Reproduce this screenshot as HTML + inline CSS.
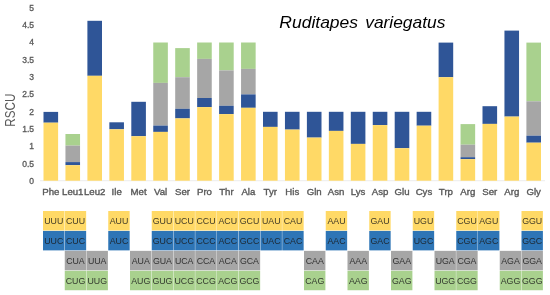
<!DOCTYPE html><html><head><meta charset="utf-8"><title>RSCU</title><style>html,body{margin:0;padding:0;background:#fff}svg{display:block}text{font-family:"Liberation Sans",sans-serif}</style></head><body>
<svg width="550" height="295" viewBox="0 0 550 295">
<rect width="550" height="295" fill="#fff"/>
<line x1="40" y1="180.7" x2="545" y2="180.7" stroke="#E0E0E0" stroke-width="0.6"/>
<rect x="43.50" y="111.90" width="14.6" height="10.80" fill="#2F5597"/>
<rect x="43.50" y="122.70" width="14.6" height="58.00" fill="#FFD966"/>
<rect x="65.45" y="134.00" width="14.6" height="11.60" fill="#A9D18E"/>
<rect x="65.45" y="145.60" width="14.6" height="16.50" fill="#A6A6A6"/>
<rect x="65.45" y="162.10" width="14.6" height="3.10" fill="#2F5597"/>
<rect x="65.45" y="165.20" width="14.6" height="15.50" fill="#FFD966"/>
<rect x="87.40" y="20.80" width="14.6" height="55.00" fill="#2F5597"/>
<rect x="87.40" y="75.80" width="14.6" height="104.90" fill="#FFD966"/>
<rect x="109.35" y="122.30" width="14.6" height="7.00" fill="#2F5597"/>
<rect x="109.35" y="129.30" width="14.6" height="51.40" fill="#FFD966"/>
<rect x="131.30" y="101.80" width="14.6" height="34.40" fill="#2F5597"/>
<rect x="131.30" y="136.20" width="14.6" height="44.50" fill="#FFD966"/>
<rect x="153.25" y="42.50" width="14.6" height="40.40" fill="#A9D18E"/>
<rect x="153.25" y="82.90" width="14.6" height="42.70" fill="#A6A6A6"/>
<rect x="153.25" y="125.60" width="14.6" height="6.30" fill="#2F5597"/>
<rect x="153.25" y="131.90" width="14.6" height="48.80" fill="#FFD966"/>
<rect x="175.20" y="48.10" width="14.6" height="29.10" fill="#A9D18E"/>
<rect x="175.20" y="77.20" width="14.6" height="31.60" fill="#A6A6A6"/>
<rect x="175.20" y="108.80" width="14.6" height="9.60" fill="#2F5597"/>
<rect x="175.20" y="118.40" width="14.6" height="62.30" fill="#FFD966"/>
<rect x="197.15" y="42.50" width="14.6" height="16.40" fill="#A9D18E"/>
<rect x="197.15" y="58.90" width="14.6" height="39.10" fill="#A6A6A6"/>
<rect x="197.15" y="98.00" width="14.6" height="9.10" fill="#2F5597"/>
<rect x="197.15" y="107.10" width="14.6" height="73.60" fill="#FFD966"/>
<rect x="219.10" y="42.50" width="14.6" height="27.90" fill="#A9D18E"/>
<rect x="219.10" y="70.40" width="14.6" height="35.40" fill="#A6A6A6"/>
<rect x="219.10" y="105.80" width="14.6" height="8.30" fill="#2F5597"/>
<rect x="219.10" y="114.10" width="14.6" height="66.60" fill="#FFD966"/>
<rect x="241.05" y="42.50" width="14.6" height="26.40" fill="#A9D18E"/>
<rect x="241.05" y="68.90" width="14.6" height="25.50" fill="#A6A6A6"/>
<rect x="241.05" y="94.40" width="14.6" height="13.40" fill="#2F5597"/>
<rect x="241.05" y="107.80" width="14.6" height="72.90" fill="#FFD966"/>
<rect x="263.00" y="111.80" width="14.6" height="15.10" fill="#2F5597"/>
<rect x="263.00" y="126.90" width="14.6" height="53.80" fill="#FFD966"/>
<rect x="284.95" y="111.80" width="14.6" height="17.80" fill="#2F5597"/>
<rect x="284.95" y="129.60" width="14.6" height="51.10" fill="#FFD966"/>
<rect x="306.90" y="111.80" width="14.6" height="25.80" fill="#2F5597"/>
<rect x="306.90" y="137.60" width="14.6" height="43.10" fill="#FFD966"/>
<rect x="328.85" y="111.80" width="14.6" height="19.10" fill="#2F5597"/>
<rect x="328.85" y="130.90" width="14.6" height="49.80" fill="#FFD966"/>
<rect x="350.80" y="111.80" width="14.6" height="32.10" fill="#2F5597"/>
<rect x="350.80" y="143.90" width="14.6" height="36.80" fill="#FFD966"/>
<rect x="372.75" y="111.80" width="14.6" height="13.30" fill="#2F5597"/>
<rect x="372.75" y="125.10" width="14.6" height="55.60" fill="#FFD966"/>
<rect x="394.70" y="111.80" width="14.6" height="36.40" fill="#2F5597"/>
<rect x="394.70" y="148.20" width="14.6" height="32.50" fill="#FFD966"/>
<rect x="416.65" y="111.80" width="14.6" height="13.90" fill="#2F5597"/>
<rect x="416.65" y="125.70" width="14.6" height="55.00" fill="#FFD966"/>
<rect x="438.60" y="42.60" width="14.6" height="34.60" fill="#2F5597"/>
<rect x="438.60" y="77.20" width="14.6" height="103.50" fill="#FFD966"/>
<rect x="460.55" y="124.10" width="14.6" height="20.60" fill="#A9D18E"/>
<rect x="460.55" y="144.70" width="14.6" height="12.50" fill="#A6A6A6"/>
<rect x="460.55" y="157.20" width="14.6" height="2.00" fill="#2F5597"/>
<rect x="460.55" y="159.20" width="14.6" height="21.50" fill="#FFD966"/>
<rect x="482.50" y="106.20" width="14.6" height="17.70" fill="#2F5597"/>
<rect x="482.50" y="123.90" width="14.6" height="56.80" fill="#FFD966"/>
<rect x="504.45" y="30.60" width="14.6" height="86.00" fill="#2F5597"/>
<rect x="504.45" y="116.60" width="14.6" height="64.10" fill="#FFD966"/>
<rect x="526.40" y="42.60" width="14.6" height="58.70" fill="#A9D18E"/>
<rect x="526.40" y="101.30" width="14.6" height="34.40" fill="#A6A6A6"/>
<rect x="526.40" y="135.70" width="14.6" height="7.00" fill="#2F5597"/>
<rect x="526.40" y="142.70" width="14.6" height="38.00" fill="#FFD966"/>
<text x="34.1" y="183.85" font-size="8.5" fill="#595959" stroke="#595959" stroke-width="0.3" text-anchor="end">0</text>
<text x="34.1" y="166.53" font-size="8.5" fill="#595959" stroke="#595959" stroke-width="0.3" text-anchor="end">0.5</text>
<text x="34.1" y="149.21" font-size="8.5" fill="#595959" stroke="#595959" stroke-width="0.3" text-anchor="end">1</text>
<text x="34.1" y="131.89" font-size="8.5" fill="#595959" stroke="#595959" stroke-width="0.3" text-anchor="end">1.5</text>
<text x="34.1" y="114.57" font-size="8.5" fill="#595959" stroke="#595959" stroke-width="0.3" text-anchor="end">2</text>
<text x="34.1" y="97.25" font-size="8.5" fill="#595959" stroke="#595959" stroke-width="0.3" text-anchor="end">2.5</text>
<text x="34.1" y="79.93" font-size="8.5" fill="#595959" stroke="#595959" stroke-width="0.3" text-anchor="end">3</text>
<text x="34.1" y="62.61" font-size="8.5" fill="#595959" stroke="#595959" stroke-width="0.3" text-anchor="end">3.5</text>
<text x="34.1" y="45.29" font-size="8.5" fill="#595959" stroke="#595959" stroke-width="0.3" text-anchor="end">4</text>
<text x="34.1" y="27.97" font-size="8.5" fill="#595959" stroke="#595959" stroke-width="0.3" text-anchor="end">4.5</text>
<text x="34.1" y="10.65" font-size="8.5" fill="#595959" stroke="#595959" stroke-width="0.3" text-anchor="end">5</text>
<text transform="translate(15.0,110.2) rotate(-90)" font-size="14.2" fill="#595959" text-anchor="middle" textLength="33" lengthAdjust="spacingAndGlyphs">RSCU</text>
<text y="28.4" font-size="16.5" font-style="italic" fill="#000"><tspan x="279.3" textLength="78.8" lengthAdjust="spacingAndGlyphs">Ruditapes</tspan> <tspan x="365.2" textLength="80.2" lengthAdjust="spacingAndGlyphs">variegatus</tspan></text>
<text transform="translate(50.80,195.3) scale(1.07,1)" font-size="9" fill="#595959" stroke="#595959" stroke-width="0.35" text-anchor="middle">Phe</text>
<text transform="translate(72.75,195.3) scale(1.07,1)" font-size="9" fill="#595959" stroke="#595959" stroke-width="0.35" text-anchor="middle">Leu1</text>
<text transform="translate(94.70,195.3) scale(1.07,1)" font-size="9" fill="#595959" stroke="#595959" stroke-width="0.35" text-anchor="middle">Leu2</text>
<text transform="translate(116.65,195.3) scale(1.07,1)" font-size="9" fill="#595959" stroke="#595959" stroke-width="0.35" text-anchor="middle">Ile</text>
<text transform="translate(138.60,195.3) scale(1.07,1)" font-size="9" fill="#595959" stroke="#595959" stroke-width="0.35" text-anchor="middle">Met</text>
<text transform="translate(160.55,195.3) scale(1.07,1)" font-size="9" fill="#595959" stroke="#595959" stroke-width="0.35" text-anchor="middle">Val</text>
<text transform="translate(182.50,195.3) scale(1.07,1)" font-size="9" fill="#595959" stroke="#595959" stroke-width="0.35" text-anchor="middle">Ser</text>
<text transform="translate(204.45,195.3) scale(1.07,1)" font-size="9" fill="#595959" stroke="#595959" stroke-width="0.35" text-anchor="middle">Pro</text>
<text transform="translate(226.40,195.3) scale(1.07,1)" font-size="9" fill="#595959" stroke="#595959" stroke-width="0.35" text-anchor="middle">Thr</text>
<text transform="translate(248.35,195.3) scale(1.07,1)" font-size="9" fill="#595959" stroke="#595959" stroke-width="0.35" text-anchor="middle">Ala</text>
<text transform="translate(270.30,195.3) scale(1.07,1)" font-size="9" fill="#595959" stroke="#595959" stroke-width="0.35" text-anchor="middle">Tyr</text>
<text transform="translate(292.25,195.3) scale(1.07,1)" font-size="9" fill="#595959" stroke="#595959" stroke-width="0.35" text-anchor="middle">His</text>
<text transform="translate(314.20,195.3) scale(1.07,1)" font-size="9" fill="#595959" stroke="#595959" stroke-width="0.35" text-anchor="middle">Gln</text>
<text transform="translate(336.15,195.3) scale(1.07,1)" font-size="9" fill="#595959" stroke="#595959" stroke-width="0.35" text-anchor="middle">Asn</text>
<text transform="translate(358.10,195.3) scale(1.07,1)" font-size="9" fill="#595959" stroke="#595959" stroke-width="0.35" text-anchor="middle">Lys</text>
<text transform="translate(380.05,195.3) scale(1.07,1)" font-size="9" fill="#595959" stroke="#595959" stroke-width="0.35" text-anchor="middle">Asp</text>
<text transform="translate(402.00,195.3) scale(1.07,1)" font-size="9" fill="#595959" stroke="#595959" stroke-width="0.35" text-anchor="middle">Glu</text>
<text transform="translate(423.95,195.3) scale(1.07,1)" font-size="9" fill="#595959" stroke="#595959" stroke-width="0.35" text-anchor="middle">Cys</text>
<text transform="translate(445.90,195.3) scale(1.07,1)" font-size="9" fill="#595959" stroke="#595959" stroke-width="0.35" text-anchor="middle">Trp</text>
<text transform="translate(467.85,195.3) scale(1.07,1)" font-size="9" fill="#595959" stroke="#595959" stroke-width="0.35" text-anchor="middle">Arg</text>
<text transform="translate(489.80,195.3) scale(1.07,1)" font-size="9" fill="#595959" stroke="#595959" stroke-width="0.35" text-anchor="middle">Ser</text>
<text transform="translate(511.75,195.3) scale(1.07,1)" font-size="9" fill="#595959" stroke="#595959" stroke-width="0.35" text-anchor="middle">Arg</text>
<text transform="translate(533.70,195.3) scale(1.07,1)" font-size="9" fill="#595959" stroke="#595959" stroke-width="0.35" text-anchor="middle">Gly</text>
<rect x="43.00" y="211.00" width="21.4" height="19.45" fill="#FFD966"/>
<text transform="translate(53.70,224.00) scale(0.905,1)" font-size="9.75" fill="#1a1a1a" fill-opacity="0.85" text-anchor="middle">UUU</text>
<rect x="43.00" y="230.93" width="21.4" height="19.45" fill="#2E75B6"/>
<text transform="translate(53.70,243.93) scale(0.905,1)" font-size="9.75" fill="#1a1a1a" fill-opacity="0.85" text-anchor="middle">UUC</text>
<rect x="64.75" y="211.00" width="21.4" height="19.45" fill="#FFD966"/>
<text transform="translate(75.45,224.00) scale(0.905,1)" font-size="9.75" fill="#1a1a1a" fill-opacity="0.85" text-anchor="middle">CUU</text>
<rect x="64.75" y="230.93" width="21.4" height="19.45" fill="#2E75B6"/>
<text transform="translate(75.45,243.93) scale(0.905,1)" font-size="9.75" fill="#1a1a1a" fill-opacity="0.85" text-anchor="middle">CUC</text>
<rect x="64.75" y="250.86" width="21.4" height="19.45" fill="#A6A6A6"/>
<text transform="translate(75.45,263.86) scale(0.905,1)" font-size="9.75" fill="#1a1a1a" fill-opacity="0.85" text-anchor="middle">CUA</text>
<rect x="64.75" y="270.79" width="21.4" height="19.45" fill="#A9D18E"/>
<text transform="translate(75.45,283.79) scale(0.905,1)" font-size="9.75" fill="#1a1a1a" fill-opacity="0.85" text-anchor="middle">CUG</text>
<rect x="86.50" y="250.86" width="21.4" height="19.45" fill="#A6A6A6"/>
<text transform="translate(97.20,263.86) scale(0.905,1)" font-size="9.75" fill="#1a1a1a" fill-opacity="0.85" text-anchor="middle">UUA</text>
<rect x="86.50" y="270.79" width="21.4" height="19.45" fill="#A9D18E"/>
<text transform="translate(97.20,283.79) scale(0.905,1)" font-size="9.75" fill="#1a1a1a" fill-opacity="0.85" text-anchor="middle">UUG</text>
<rect x="108.25" y="211.00" width="21.4" height="19.45" fill="#FFD966"/>
<text transform="translate(118.95,224.00) scale(0.905,1)" font-size="9.75" fill="#1a1a1a" fill-opacity="0.85" text-anchor="middle">AUU</text>
<rect x="108.25" y="230.93" width="21.4" height="19.45" fill="#2E75B6"/>
<text transform="translate(118.95,243.93) scale(0.905,1)" font-size="9.75" fill="#1a1a1a" fill-opacity="0.85" text-anchor="middle">AUC</text>
<rect x="130.00" y="250.86" width="21.4" height="19.45" fill="#A6A6A6"/>
<text transform="translate(140.70,263.86) scale(0.905,1)" font-size="9.75" fill="#1a1a1a" fill-opacity="0.85" text-anchor="middle">AUA</text>
<rect x="130.00" y="270.79" width="21.4" height="19.45" fill="#A9D18E"/>
<text transform="translate(140.70,283.79) scale(0.905,1)" font-size="9.75" fill="#1a1a1a" fill-opacity="0.85" text-anchor="middle">AUG</text>
<rect x="151.75" y="211.00" width="21.4" height="19.45" fill="#FFD966"/>
<text transform="translate(162.45,224.00) scale(0.905,1)" font-size="9.75" fill="#1a1a1a" fill-opacity="0.85" text-anchor="middle">GUU</text>
<rect x="151.75" y="230.93" width="21.4" height="19.45" fill="#2E75B6"/>
<text transform="translate(162.45,243.93) scale(0.905,1)" font-size="9.75" fill="#1a1a1a" fill-opacity="0.85" text-anchor="middle">GUC</text>
<rect x="151.75" y="250.86" width="21.4" height="19.45" fill="#A6A6A6"/>
<text transform="translate(162.45,263.86) scale(0.905,1)" font-size="9.75" fill="#1a1a1a" fill-opacity="0.85" text-anchor="middle">GUA</text>
<rect x="151.75" y="270.79" width="21.4" height="19.45" fill="#A9D18E"/>
<text transform="translate(162.45,283.79) scale(0.905,1)" font-size="9.75" fill="#1a1a1a" fill-opacity="0.85" text-anchor="middle">GUG</text>
<rect x="173.50" y="211.00" width="21.4" height="19.45" fill="#FFD966"/>
<text transform="translate(184.20,224.00) scale(0.905,1)" font-size="9.75" fill="#1a1a1a" fill-opacity="0.85" text-anchor="middle">UCU</text>
<rect x="173.50" y="230.93" width="21.4" height="19.45" fill="#2E75B6"/>
<text transform="translate(184.20,243.93) scale(0.905,1)" font-size="9.75" fill="#1a1a1a" fill-opacity="0.85" text-anchor="middle">UCC</text>
<rect x="173.50" y="250.86" width="21.4" height="19.45" fill="#A6A6A6"/>
<text transform="translate(184.20,263.86) scale(0.905,1)" font-size="9.75" fill="#1a1a1a" fill-opacity="0.85" text-anchor="middle">UCA</text>
<rect x="173.50" y="270.79" width="21.4" height="19.45" fill="#A9D18E"/>
<text transform="translate(184.20,283.79) scale(0.905,1)" font-size="9.75" fill="#1a1a1a" fill-opacity="0.85" text-anchor="middle">UCG</text>
<rect x="195.25" y="211.00" width="21.4" height="19.45" fill="#FFD966"/>
<text transform="translate(205.95,224.00) scale(0.905,1)" font-size="9.75" fill="#1a1a1a" fill-opacity="0.85" text-anchor="middle">CCU</text>
<rect x="195.25" y="230.93" width="21.4" height="19.45" fill="#2E75B6"/>
<text transform="translate(205.95,243.93) scale(0.905,1)" font-size="9.75" fill="#1a1a1a" fill-opacity="0.85" text-anchor="middle">CCC</text>
<rect x="195.25" y="250.86" width="21.4" height="19.45" fill="#A6A6A6"/>
<text transform="translate(205.95,263.86) scale(0.905,1)" font-size="9.75" fill="#1a1a1a" fill-opacity="0.85" text-anchor="middle">CCA</text>
<rect x="195.25" y="270.79" width="21.4" height="19.45" fill="#A9D18E"/>
<text transform="translate(205.95,283.79) scale(0.905,1)" font-size="9.75" fill="#1a1a1a" fill-opacity="0.85" text-anchor="middle">CCG</text>
<rect x="217.00" y="211.00" width="21.4" height="19.45" fill="#FFD966"/>
<text transform="translate(227.70,224.00) scale(0.905,1)" font-size="9.75" fill="#1a1a1a" fill-opacity="0.85" text-anchor="middle">ACU</text>
<rect x="217.00" y="230.93" width="21.4" height="19.45" fill="#2E75B6"/>
<text transform="translate(227.70,243.93) scale(0.905,1)" font-size="9.75" fill="#1a1a1a" fill-opacity="0.85" text-anchor="middle">ACC</text>
<rect x="217.00" y="250.86" width="21.4" height="19.45" fill="#A6A6A6"/>
<text transform="translate(227.70,263.86) scale(0.905,1)" font-size="9.75" fill="#1a1a1a" fill-opacity="0.85" text-anchor="middle">ACA</text>
<rect x="217.00" y="270.79" width="21.4" height="19.45" fill="#A9D18E"/>
<text transform="translate(227.70,283.79) scale(0.905,1)" font-size="9.75" fill="#1a1a1a" fill-opacity="0.85" text-anchor="middle">ACG</text>
<rect x="238.75" y="211.00" width="21.4" height="19.45" fill="#FFD966"/>
<text transform="translate(249.45,224.00) scale(0.905,1)" font-size="9.75" fill="#1a1a1a" fill-opacity="0.85" text-anchor="middle">GCU</text>
<rect x="238.75" y="230.93" width="21.4" height="19.45" fill="#2E75B6"/>
<text transform="translate(249.45,243.93) scale(0.905,1)" font-size="9.75" fill="#1a1a1a" fill-opacity="0.85" text-anchor="middle">GCC</text>
<rect x="238.75" y="250.86" width="21.4" height="19.45" fill="#A6A6A6"/>
<text transform="translate(249.45,263.86) scale(0.905,1)" font-size="9.75" fill="#1a1a1a" fill-opacity="0.85" text-anchor="middle">GCA</text>
<rect x="238.75" y="270.79" width="21.4" height="19.45" fill="#A9D18E"/>
<text transform="translate(249.45,283.79) scale(0.905,1)" font-size="9.75" fill="#1a1a1a" fill-opacity="0.85" text-anchor="middle">GCG</text>
<rect x="260.50" y="211.00" width="21.4" height="19.45" fill="#FFD966"/>
<text transform="translate(271.20,224.00) scale(0.905,1)" font-size="9.75" fill="#1a1a1a" fill-opacity="0.85" text-anchor="middle">UAU</text>
<rect x="260.50" y="230.93" width="21.4" height="19.45" fill="#2E75B6"/>
<text transform="translate(271.20,243.93) scale(0.905,1)" font-size="9.75" fill="#1a1a1a" fill-opacity="0.85" text-anchor="middle">UAC</text>
<rect x="282.25" y="211.00" width="21.4" height="19.45" fill="#FFD966"/>
<text transform="translate(292.95,224.00) scale(0.905,1)" font-size="9.75" fill="#1a1a1a" fill-opacity="0.85" text-anchor="middle">CAU</text>
<rect x="282.25" y="230.93" width="21.4" height="19.45" fill="#2E75B6"/>
<text transform="translate(292.95,243.93) scale(0.905,1)" font-size="9.75" fill="#1a1a1a" fill-opacity="0.85" text-anchor="middle">CAC</text>
<rect x="304.00" y="250.86" width="21.4" height="19.45" fill="#A6A6A6"/>
<text transform="translate(314.70,263.86) scale(0.905,1)" font-size="9.75" fill="#1a1a1a" fill-opacity="0.85" text-anchor="middle">CAA</text>
<rect x="304.00" y="270.79" width="21.4" height="19.45" fill="#A9D18E"/>
<text transform="translate(314.70,283.79) scale(0.905,1)" font-size="9.75" fill="#1a1a1a" fill-opacity="0.85" text-anchor="middle">CAG</text>
<rect x="325.75" y="211.00" width="21.4" height="19.45" fill="#FFD966"/>
<text transform="translate(336.45,224.00) scale(0.905,1)" font-size="9.75" fill="#1a1a1a" fill-opacity="0.85" text-anchor="middle">AAU</text>
<rect x="325.75" y="230.93" width="21.4" height="19.45" fill="#2E75B6"/>
<text transform="translate(336.45,243.93) scale(0.905,1)" font-size="9.75" fill="#1a1a1a" fill-opacity="0.85" text-anchor="middle">AAC</text>
<rect x="347.50" y="250.86" width="21.4" height="19.45" fill="#A6A6A6"/>
<text transform="translate(358.20,263.86) scale(0.905,1)" font-size="9.75" fill="#1a1a1a" fill-opacity="0.85" text-anchor="middle">AAA</text>
<rect x="347.50" y="270.79" width="21.4" height="19.45" fill="#A9D18E"/>
<text transform="translate(358.20,283.79) scale(0.905,1)" font-size="9.75" fill="#1a1a1a" fill-opacity="0.85" text-anchor="middle">AAG</text>
<rect x="369.25" y="211.00" width="21.4" height="19.45" fill="#FFD966"/>
<text transform="translate(379.95,224.00) scale(0.905,1)" font-size="9.75" fill="#1a1a1a" fill-opacity="0.85" text-anchor="middle">GAU</text>
<rect x="369.25" y="230.93" width="21.4" height="19.45" fill="#2E75B6"/>
<text transform="translate(379.95,243.93) scale(0.905,1)" font-size="9.75" fill="#1a1a1a" fill-opacity="0.85" text-anchor="middle">GAC</text>
<rect x="391.00" y="250.86" width="21.4" height="19.45" fill="#A6A6A6"/>
<text transform="translate(401.70,263.86) scale(0.905,1)" font-size="9.75" fill="#1a1a1a" fill-opacity="0.85" text-anchor="middle">GAA</text>
<rect x="391.00" y="270.79" width="21.4" height="19.45" fill="#A9D18E"/>
<text transform="translate(401.70,283.79) scale(0.905,1)" font-size="9.75" fill="#1a1a1a" fill-opacity="0.85" text-anchor="middle">GAG</text>
<rect x="412.75" y="211.00" width="21.4" height="19.45" fill="#FFD966"/>
<text transform="translate(423.45,224.00) scale(0.905,1)" font-size="9.75" fill="#1a1a1a" fill-opacity="0.85" text-anchor="middle">UGU</text>
<rect x="412.75" y="230.93" width="21.4" height="19.45" fill="#2E75B6"/>
<text transform="translate(423.45,243.93) scale(0.905,1)" font-size="9.75" fill="#1a1a1a" fill-opacity="0.85" text-anchor="middle">UGC</text>
<rect x="434.50" y="250.86" width="21.4" height="19.45" fill="#A6A6A6"/>
<text transform="translate(445.20,263.86) scale(0.905,1)" font-size="9.75" fill="#1a1a1a" fill-opacity="0.85" text-anchor="middle">UGA</text>
<rect x="434.50" y="270.79" width="21.4" height="19.45" fill="#A9D18E"/>
<text transform="translate(445.20,283.79) scale(0.905,1)" font-size="9.75" fill="#1a1a1a" fill-opacity="0.85" text-anchor="middle">UGG</text>
<rect x="456.25" y="211.00" width="21.4" height="19.45" fill="#FFD966"/>
<text transform="translate(466.95,224.00) scale(0.905,1)" font-size="9.75" fill="#1a1a1a" fill-opacity="0.85" text-anchor="middle">CGU</text>
<rect x="456.25" y="230.93" width="21.4" height="19.45" fill="#2E75B6"/>
<text transform="translate(466.95,243.93) scale(0.905,1)" font-size="9.75" fill="#1a1a1a" fill-opacity="0.85" text-anchor="middle">CGC</text>
<rect x="456.25" y="250.86" width="21.4" height="19.45" fill="#A6A6A6"/>
<text transform="translate(466.95,263.86) scale(0.905,1)" font-size="9.75" fill="#1a1a1a" fill-opacity="0.85" text-anchor="middle">CGA</text>
<rect x="456.25" y="270.79" width="21.4" height="19.45" fill="#A9D18E"/>
<text transform="translate(466.95,283.79) scale(0.905,1)" font-size="9.75" fill="#1a1a1a" fill-opacity="0.85" text-anchor="middle">CGG</text>
<rect x="478.00" y="211.00" width="21.4" height="19.45" fill="#FFD966"/>
<text transform="translate(488.70,224.00) scale(0.905,1)" font-size="9.75" fill="#1a1a1a" fill-opacity="0.85" text-anchor="middle">AGU</text>
<rect x="478.00" y="230.93" width="21.4" height="19.45" fill="#2E75B6"/>
<text transform="translate(488.70,243.93) scale(0.905,1)" font-size="9.75" fill="#1a1a1a" fill-opacity="0.85" text-anchor="middle">AGC</text>
<rect x="499.75" y="250.86" width="21.4" height="19.45" fill="#A6A6A6"/>
<text transform="translate(510.45,263.86) scale(0.905,1)" font-size="9.75" fill="#1a1a1a" fill-opacity="0.85" text-anchor="middle">AGA</text>
<rect x="499.75" y="270.79" width="21.4" height="19.45" fill="#A9D18E"/>
<text transform="translate(510.45,283.79) scale(0.905,1)" font-size="9.75" fill="#1a1a1a" fill-opacity="0.85" text-anchor="middle">AGG</text>
<rect x="521.50" y="211.00" width="21.4" height="19.45" fill="#FFD966"/>
<text transform="translate(532.20,224.00) scale(0.905,1)" font-size="9.75" fill="#1a1a1a" fill-opacity="0.85" text-anchor="middle">GGU</text>
<rect x="521.50" y="230.93" width="21.4" height="19.45" fill="#2E75B6"/>
<text transform="translate(532.20,243.93) scale(0.905,1)" font-size="9.75" fill="#1a1a1a" fill-opacity="0.85" text-anchor="middle">GGC</text>
<rect x="521.50" y="250.86" width="21.4" height="19.45" fill="#A6A6A6"/>
<text transform="translate(532.20,263.86) scale(0.905,1)" font-size="9.75" fill="#1a1a1a" fill-opacity="0.85" text-anchor="middle">GGA</text>
<rect x="521.50" y="270.79" width="21.4" height="19.45" fill="#A9D18E"/>
<text transform="translate(532.20,283.79) scale(0.905,1)" font-size="9.75" fill="#1a1a1a" fill-opacity="0.85" text-anchor="middle">GGG</text>
</svg></body></html>
